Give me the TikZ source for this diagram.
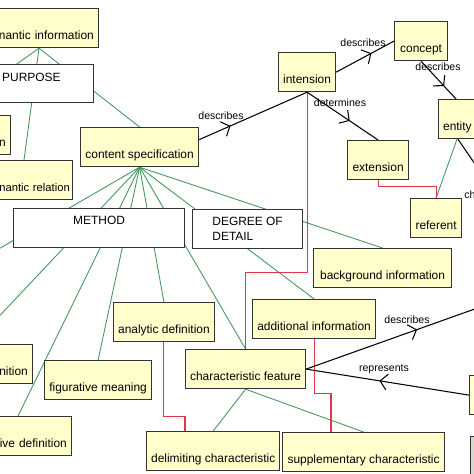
\documentclass[tikz,border=0pt]{standalone}
\usepackage{fontspec}
\setmainfont{Liberation Sans}
\usetikzlibrary{arrows.meta,decorations.markings,backgrounds}
\definecolor{termyellow}{RGB}{255,255,204}
\definecolor{linkgreen}{RGB}{70,150,90}
\definecolor{linkred}{RGB}{220,55,75}
\definecolor{boxgray}{RGB}{215,215,205}
\tikzset{
  box/.style={draw=black!80,line width=0.7pt},
  term/.style={box,fill=termyellow,inner xsep=0.09cm,inner ysep=0pt,text height=0.62cm,text depth=0.16cm},
  cutterm/.style={term,anchor=north east,text width=#1,align=right},
  head/.style={box,fill=white,inner sep=0pt,text height=0.32cm,text depth=0.46cm},
  greenlink/.style={draw=linkgreen,line width=0.5pt},
  redlink/.style={draw=linkred,line width=0.6pt},
  blacklink/.style={draw=black,line width=0.6pt},
  midarrow/.style={postaction={decorate,decoration={markings,mark=at position #1 with {\arrow{Straight Barb[length=4pt,width=9pt]}}}}},
  lbl/.style={font=\fontsize{6}{7}\selectfont,inner sep=0pt}
}
\begin{document}
\begin{tikzpicture}[x=0.02cm,y=-0.02cm,font=\fontsize{6.8}{8.5}\selectfont]
\useasboundingbox (0,0) rectangle (474,474);
\clip (0,0) rectangle (474,474);
% left column (cut by the frame)
\node[cutterm=2.5cm] (seminfo) at (99,8) {nantic information};
\node[head,anchor=north east,minimum width=2.48cm,text height=0.34cm,text depth=0.42cm] (purpose) at (94,64) {PURPOSE};
\node[cutterm=1cm] (nbox) at (11,115) {n};
\node[cutterm=2cm,inner xsep=0.05cm,font=\fontsize{6.4}{8}\selectfont] (semrel) at (73,160) {nantic relation};
\node[cutterm=1.2cm] (nition) at (33,344) {nition};
\node[cutterm=2cm] (ivedef) at (72,416) {ive definition};
% middle
\node[term,anchor=north west,minimum width=2.36cm] (content) at (80,127) {content specification};
\node[head,anchor=north west,minimum width=3.42cm] (method) at (13,208) {METHOD};
\node[box,fill=white,anchor=north west,minimum width=2.2cm,minimum height=0.78cm,inner sep=0pt,align=left] (degree) at (192,209) {DEGREE OF\\DETAIL};
\node[term,anchor=north west,minimum width=1.98cm] (analytic) at (113,302) {analytic definition};
\node[term,anchor=north west,minimum width=2.14cm] (figurative) at (44,360) {figurative meaning};
\node[term,anchor=north west,minimum width=2.38cm] (charfeat) at (185,349) {characteristic feature};
\node[term,anchor=north west,minimum width=2.62cm] (delimiting) at (146,431) {delimiting characteristic};
\node[term,anchor=north west,minimum width=2.46cm] (addinfo) at (252,299) {additional information};
\node[term,anchor=north west,minimum width=3.24cm] (supplementary) at (282,432) {supplementary characteristic};
\node[term,anchor=north west,minimum width=2.76cm] (background) at (313,248) {background information};
% right part
\node[term,anchor=north west,minimum width=1.14cm] (intension) at (278,52) {intension};
\node[term,anchor=north west,minimum width=1.06cm] (concept) at (394,21) {concept};
\node[term,anchor=north west,text width=1.2cm,align=left] (entity) at (438,99) {entity};
\node[term,anchor=north west,minimum width=1.22cm] (extension) at (347,140) {extension};
\node[term,anchor=north west,minimum width=1.02cm] (referent) at (410,198) {referent};
\node[term,anchor=north west,minimum width=1cm] (rightbox) at (469,375) {};
\node[box,fill=boxgray,anchor=north west,minimum width=1cm,minimum height=1cm] (graybox) at (470,436) {};
\coordinate (offleft) at (-60,283);
\coordinate (chend) at (490,186);
\coordinate (descend) at (528,290);
% labels
\node[lbl] (descA) at (221,116) {describes};
\node[lbl] (descB) at (363,43) {describes};
\node[lbl] (descC) at (438,67) {describes};
\node[lbl] (determ) at (340,103) {determines};
\node[lbl] (descD) at (407,320) {describes};
\node[lbl] (repr) at (384,369) {represents};
\node[lbl,anchor=west] (chlbl) at (464,195) {ch};
\begin{scope}[on background layer]
\clip (0,0) rectangle (474,474);
% green part-of links
\draw[greenlink] ([xshift=-1.2cm]seminfo.south east) -- (content.north);
\draw[greenlink] ([xshift=-1.2cm]seminfo.south east) -- ([xshift=-0.98cm]semrel.north east);
\draw[greenlink] ([xshift=-1.2cm]seminfo.south east) -- ([xshift=-1.32cm]nbox.north east);
\foreach \t in {background,addinfo,charfeat,analytic,figurative}
  \draw[greenlink] (content.south) -- (\t.north);
\draw[greenlink] (content.south) -- ([xshift=-1.08cm]ivedef.north east);
\draw[greenlink] (content.south) -- ([xshift=-1.2cm]nition.north east);
\draw[greenlink] (content.south) -- (offleft);
\draw[greenlink] (charfeat.south) -- (delimiting.north);
\draw[greenlink] (charfeat.south) -- (supplementary.north);
\draw[greenlink] ([xshift=0.38cm]entity.south west) -- (referent.north);
% red links
\draw[redlink] (extension.south) -- ++(0,6) -| (referent.north);
\draw[redlink] (analytic.south) -- ++(0,74) -| ([xshift=0.78cm]delimiting.north west);
\draw[redlink] (intension.south) -- ++(0,180) -| (charfeat.north);
\draw[redlink] (addinfo.south) -- ++(0,54) -| ([xshift=0.98cm]supplementary.north west);
% black relations
\draw[blacklink,midarrow=0.29] ([yshift=0.15cm]content.east) -- (intension.south);
\draw[blacklink,midarrow=0.61] (intension.east) -- (concept.west);
\draw[blacklink,midarrow=0.66] (concept.south) -- ([xshift=0.36cm]entity.north west);
\draw[blacklink,midarrow=0.6] (intension.south) -- (extension.north);
\draw[blacklink] ([xshift=0.4cm]entity.south west) -- (chend);
\draw[blacklink,midarrow=0.5] (charfeat.east) -- (descend);
\draw[blacklink,midarrow=0.55] (rightbox.west) -- (charfeat.east);
\end{scope}
\end{tikzpicture}
\end{document}
